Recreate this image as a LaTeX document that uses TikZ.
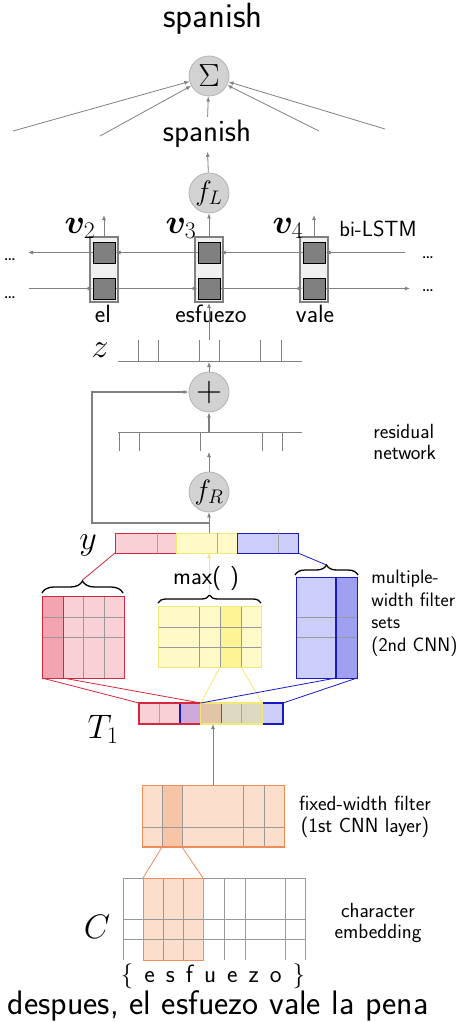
\RequirePackage{fix-cm}
\documentclass[tikz,border=0pt]{standalone}
\usepackage{fontspec}
\usepackage{bm}
\renewcommand{\familydefault}{\sfdefault}
\usetikzlibrary{arrows.meta,decorations.pathreplacing}

\definecolor{redline}{RGB}{212,40,60}
\definecolor{redfill}{RGB}{249,208,214}
\definecolor{reddark}{RGB}{242,165,176}
\definecolor{yelline}{RGB}{242,232,120}
\definecolor{yelfill}{RGB}{255,250,200}
\definecolor{yeldark}{RGB}{253,244,150}
\definecolor{blueline}{RGB}{25,25,200}
\definecolor{bluefill}{RGB}{205,205,250}
\definecolor{bluedark}{RGB}{160,160,242}
\definecolor{orline}{RGB}{240,140,90}
\definecolor{orfill}{RGB}{252,222,205}
\definecolor{ordark}{RGB}{248,196,168}
\definecolor{mixrb}{RGB}{206,168,216}
\definecolor{mixall}{RGB}{226,196,168}
\definecolor{mixby}{RGB}{221,216,192}

\tikzset{
  >={Latex[length=5pt,width=4pt]},
  op/.style={circle,draw=gray!60,fill=gray!35,minimum size=40pt,inner sep=0pt},
  cell/.style={draw=gray,line width=2pt,fill=gray!12,minimum width=28pt,minimum height=65pt,inner sep=0pt},
  gate/.style={draw=black,line width=1pt,fill=gray,minimum width=22pt,minimum height=21pt,inner sep=0pt},
  lnk/.style={draw=gray,->},
  blk/.style={rectangle,inner sep=0pt,outer sep=0pt},
  brc/.style={decorate,decoration={brace,amplitude=#1},line width=1.3pt},
  side/.style={font=\fontsize{20.5}{21}\selectfont,inner sep=0pt},
  word/.style={font=\fontsize{25}{28}\selectfont,anchor=base},
  sym/.style={font=\fontsize{34}{38}\selectfont,anchor=base},
  dots/.style={font=\fontsize{22}{24}\selectfont,anchor=base,inner sep=0pt},
}

\begin{document}
\begin{tikzpicture}[x=1pt,y=-1pt,line width=0.8pt]
\useasboundingbox (0,0) rectangle (460,1022);

\node[font=\fontsize{35}{38}\selectfont,anchor=base] (out) at (213,28) {spanish};
\node[op] (sig) at (209,76) {\fontsize{32}{34}\selectfont$\Sigma$};
\coordinate (s1) at (13,131);
\coordinate (s2) at (100,136);
\coordinate (s3) at (319,131);
\coordinate (s4) at (385,129);
\foreach \s in {s1,s2,s3,s4}
  \draw[lnk] (\s) -- (sig);
\node[font=\fontsize{31}{34}\selectfont,anchor=base] (sp) at (207,142) {spanish};
\draw[lnk] (sp) -- (sig);
\node[op] (fL) at (209,193) {\fontsize{28}{30}\selectfont$f_L$};
\draw[lnk] (fL) -- (sp);

\foreach \i/\x in {1/104,2/209,3/314} {
  \node[cell] (c\i) at (\x,269.5) {};
  \node[gate] (g\i t) at (\x,252.5) {};
  \node[gate] (g\i b) at (\x,288.5) {};
}
\coordinate (lt) at (28,252.5);
\coordinate (rt) at (405,252.5);
\coordinate (lb) at (29,288.5);
\coordinate (rb) at (410,288.5);
\draw[lnk] (rt) -- (g3t);
\draw[lnk] (g3t) -- (g2t);
\draw[lnk] (g2t) -- (g1t);
\draw[lnk] (g1t) -- (lt);
\draw[lnk] (lb) -- (g1b);
\draw[lnk,line width=1.5pt] (g1b) -- (g2b);
\draw[lnk,line width=1.5pt] (g2b) -- (g3b);
\draw[lnk] (g3b) -- (rb);
\node[dots] (d1) at (10,260) {\dots};
\node[dots] (d2) at (10,298) {\dots};
\node[dots] (d3) at (428,258) {\dots};
\node[dots] (d4) at (428,291) {\dots};
\coordinate (o1) at (104,215);
\coordinate (o3) at (314,215);
\draw[lnk] (c1) -- (o1);
\draw[lnk] (c2) -- (fL);
\draw[lnk] (c3) -- (o3);
\node[sym] (v2) at (80,233) {$\bm{v}_2$};
\node[sym] (v3) at (181,233) {$\bm{v}_3$};
\node[sym] (v4) at (288,233) {$\bm{v}_4$};
\node[font=\fontsize{22}{24}\selectfont,anchor=base] (bl) at (378,236) {bi-LSTM};
\node[word] (w1) at (103,322) {el};
\node[word] (w2) at (211,322) {esfuezo};
\node[word] (w3) at (315,322) {vale};

\draw[gray] (118,361) -- (302,361);
\foreach \x in {138,158,199,219,260,281}
  \draw[gray] (\x,361) -- (\x,340);
\node[sym] (zl) at (100,357) {$z$};
\coordinate (zin) at (209,340);
\coordinate (zout) at (209,362);
\draw[lnk] (zin) -- (c2);
\node[op] (plus) at (209,392) {\fontsize{36}{38}\selectfont$+$};
\draw[lnk] (plus) -- (zout);

\draw[gray] (118,432) -- (302,432);
\foreach \x in {119,139,200,262,282}
  \draw[gray] (\x,432) -- (\x,451);
\coordinate (rtop) at (209,432);
\coordinate (rbot) at (209,452);
\draw[lnk,line width=1.5pt] (rtop) -- (plus);
\node[op] (fR) at (209,492) {\fontsize{28}{30}\selectfont$f_R$};
\draw[lnk] (fR) -- (rbot);
\node[side,align=left,anchor=north west] (res) at (373,424) {residual\\network};

\node[blk,draw=redline,fill=redfill,minimum width=61pt,minimum height=20pt] (yr) at (145.5,543) {};
\node[blk,draw=yelline,fill=yelfill,minimum width=61pt,minimum height=20pt] (yy) at (206.5,543) {};
\node[blk,draw=blueline,fill=bluefill,minimum width=61pt,minimum height=20pt] (yb) at (267.5,543) {};
\foreach \x in {157,217,278}
  \draw[gray!70] (\x,533) -- (\x,553);
\node[sym] (yl) at (88,549) {$y$};
\coordinate (skip) at (209,523);
\coordinate (skipc) at (92,392);
\draw[lnk] (fR |- yy.north) -- (fR);
\draw[lnk,line width=1.2pt] (skip) -| (skipc) -- (plus);

\coordinate (rtip) at (82.5,580);
\coordinate (ytip) at (209,595);
\coordinate (btip) at (326.5,565);
\draw[brc=12pt] (42,593) -- (123,593);
\draw[brc=8pt] (158,603) -- (261,603);
\draw[brc=10pt] (295,575) -- (358,575);
\draw[redline] (yr.south west) -- (rtip);
\draw[blueline] (yb.south east) -- (btip);
\draw[yelline,->] (ytip) -- (ytip |- yy.south);
\node[font=\fontsize{24}{26}\selectfont] (mx) at (206,579) {max(\hspace{9pt})};

\node[blk,draw=redline,fill=redfill,minimum width=82pt,minimum height=82pt] (rflt) at (83,637) {};
\node[blk,draw=redline,fill=reddark,minimum width=21pt,minimum height=82pt] (rcol) at (52.5,637) {};
\foreach \x in {83,104}
  \draw[gray!80] (\x,596) -- (\x,678);
\foreach \y in {617,637}
  \draw[gray!80] (42,\y) -- (124,\y);
\draw[redline] (rflt.north west) rectangle (rflt.south east);
\draw[redline] (rcol.north east) -- (rcol.south east);

\node[blk,draw=yelline,fill=yelfill,minimum width=103pt,minimum height=61pt] (yflt) at (209.5,636.5) {};
\node[blk,draw=yelline,fill=yeldark,minimum width=21pt,minimum height=61pt] (ycol) at (230.5,636.5) {};
\foreach \x in {199,220,241}
  \draw[gray!80] (\x,606) -- (\x,667);
\foreach \y in {627,647}
  \draw[gray!80] (158,\y) -- (261,\y);
\draw[yelline] (yflt.north west) rectangle (yflt.south east);

\node[blk,draw=blueline,fill=bluefill,minimum width=61pt,minimum height=101pt] (bflt) at (326.5,627.5) {};
\node[blk,draw=blueline,fill=bluedark,minimum width=21pt,minimum height=101pt] (bcol) at (346.5,627.5) {};
\foreach \y in {617,637}
  \draw[gray!80] (296,\y) -- (357,\y);
\draw[blueline,line width=1.6pt] (bcol.north west) -- (bcol.south west);
\draw[blueline] (bflt.north west) rectangle (bflt.south east);

\node[side,align=left,anchor=north west,font=\fontsize{19.5}{22.5}\selectfont] (mw) at (371,570) {multiple-\\width filter\\sets\\(2nd CNN)};

\foreach \i/\c in {1/redfill,2/redfill,3/mixrb,4/mixall,5/mixby,6/mixby,7/bluefill}
  \node[blk,draw=gray!70,fill=\c,minimum width=20.57pt,minimum height=21pt] (t\i) at ({139+20.57*(\i-0.5)},713.5) {};
\draw[blueline,line width=1.4pt] (t3.north west) rectangle (t7.south east);
\draw[redline,line width=1.4pt] (t1.north west) rectangle (t4.south east);
\draw[yelline,line width=1.4pt] (t4.north west) rectangle (t6.south east);
\node[sym] (tl) at (103,738) {$T_1$};

\draw[redline] (rflt.south west) -- (t1.north west);
\draw[redline] (rcol.south east) -- (t4.north west);
\draw[yelline] (ycol.south west) -- (t4.north west);
\draw[yelline] (ycol.south east) -- (t7.north west);
\draw[blueline] (bcol.south west) -- (t4.north west);
\draw[blueline] (bcol.south east) -- (t7.north east);

\node[blk,fill=orfill,minimum width=142pt,minimum height=62pt] (ff) at (213,816) {};
\node[blk,fill=ordark,minimum width=20pt,minimum height=62pt] (fcol) at (172,816) {};
\foreach \x in {162,182,243,264}
  \draw[gray!80] (\x,785) -- (\x,847);
\draw[gray!80] (142,827) -- (284,827);
\draw[orline] (ff.north west) rectangle (ff.south east);
\draw[orline,line width=2pt] (ff.south west) -- (ff.south east);
\draw[lnk] (ff) -- (ff |- t4.south);
\node[side,align=center,font=\fontsize{20.5}{22.5}\selectfont] (fwl) at (365,817) {fixed-width filter\\ (1st CNN layer)};

\node[blk,minimum width=182pt,minimum height=82pt] (cgrid) at (214,919) {};
\node[blk,fill=orfill,minimum width=60pt,minimum height=82pt] (cwin) at (173,919) {};
\foreach \x in {123,143,163,183,203,224,245,285,305}
  \draw[gray!80] (\x,878) -- (\x,960);
\foreach \y in {878,919,939}
  \draw[gray!80] (123,\y) -- (305,\y);
\draw[orline] (cwin.north west) rectangle (cwin.south east);
\draw[orline] (fcol.south west) -- (cwin.north west);
\draw[orline] (fcol.south east) -- (cwin.north east);
\node[sym] (cl) at (97,938) {$C$};
\node[side,align=center] (cel) at (378,923) {character\\embedding};
\node[font=\fontsize{25}{28}\selectfont] (chars) at (213,976) {\spaceskip=11pt \{ e s f u e z o \}};

\node[font=\fontsize{34}{38}\selectfont,anchor=base west] (sent) at (4,1014) {despues, el esfuezo vale la pena};
\end{tikzpicture}
\end{document}
